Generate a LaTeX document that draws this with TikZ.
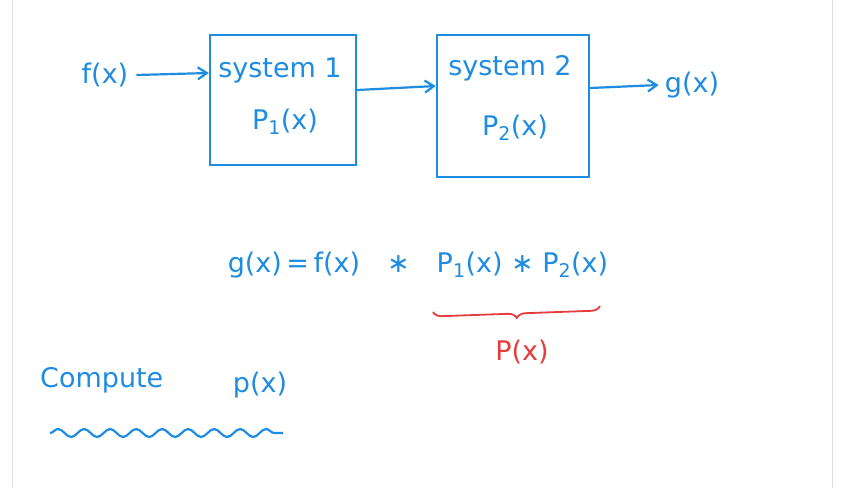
\documentclass[tikz,border=0pt]{standalone}
\usepackage{fontspec}
\setmainfont{DejaVu Sans}
\usetikzlibrary{decorations.pathreplacing,decorations.pathmorphing,arrows.meta}
\definecolor{pen}{RGB}{30,140,225}
\definecolor{redpen}{RGB}{230,60,60}
\begin{document}
\begin{tikzpicture}[x=1pt,y=-1pt,
  txt/.style={text=pen,font=\fontsize{27}{30}\selectfont,inner sep=0pt},
  rtxt/.style={text=redpen,font=\fontsize{27}{30}\selectfont,inner sep=0pt},
  sysbox/.style={draw=pen,line width=2.4pt,inner sep=0pt},
  arr/.style={draw=pen,line width=2.2pt,-{Straight Barb[length=9pt,width=12pt]}}]
\useasboundingbox[fill=white] (0,0) rectangle (844,488);
\draw[black!12,line width=1pt] (12,0) -- (12,488) (832,0) -- (832,488);
\node[txt] (f) at (105,75) {f(x)};
\node[sysbox,minimum width=146pt,minimum height=130pt] (b1) at (283,100) {};
\node[txt] at (280,70) {system 1};
\node[txt] at (285,122) {P\textsubscript{1}(x)};
\node[sysbox,minimum width=152pt,minimum height=142pt] (b2) at (513,106) {};
\node[txt] at (510,68) {system 2};
\node[txt] at (515,128) {P\textsubscript{2}(x)};
\node[txt] (g) at (692,85) {g(x)};
\draw[arr] (f.east)+(8,0) -- (b1.west |- 0,73);
\draw[arr] (b1.east |- 0,90) -- (b2.west |- 0,86);
\draw[arr] (b2.east |- 0,88) -- ([xshift=-6pt]g.west);
\node[txt] (eq) at (418,265) {g(x)\,=\,f(x)\quad ∗\quad P\textsubscript{1}(x)\ ∗\ P\textsubscript{2}(x)};
\coordinate (bl) at (433,312);
\coordinate (br) at (600,306);
\draw[redpen,line width=1.8pt,decorate,decoration={brace,mirror,amplitude=9pt}] (bl) -- (br);
\node[rtxt] (p) at (522,352) {P(x)};
\node[txt,anchor=west] (c) at (40,380) {Compute};
\node[txt] (px) at (260,385) {p(x)};
\coordinate (w1) at (50,433);
\coordinate (w2) at (283,433);
\draw[pen,line width=2.2pt,decorate,decoration={snake,amplitude=4pt,segment length=26pt}] (w1) -- (w2);
\end{tikzpicture}
\end{document}
